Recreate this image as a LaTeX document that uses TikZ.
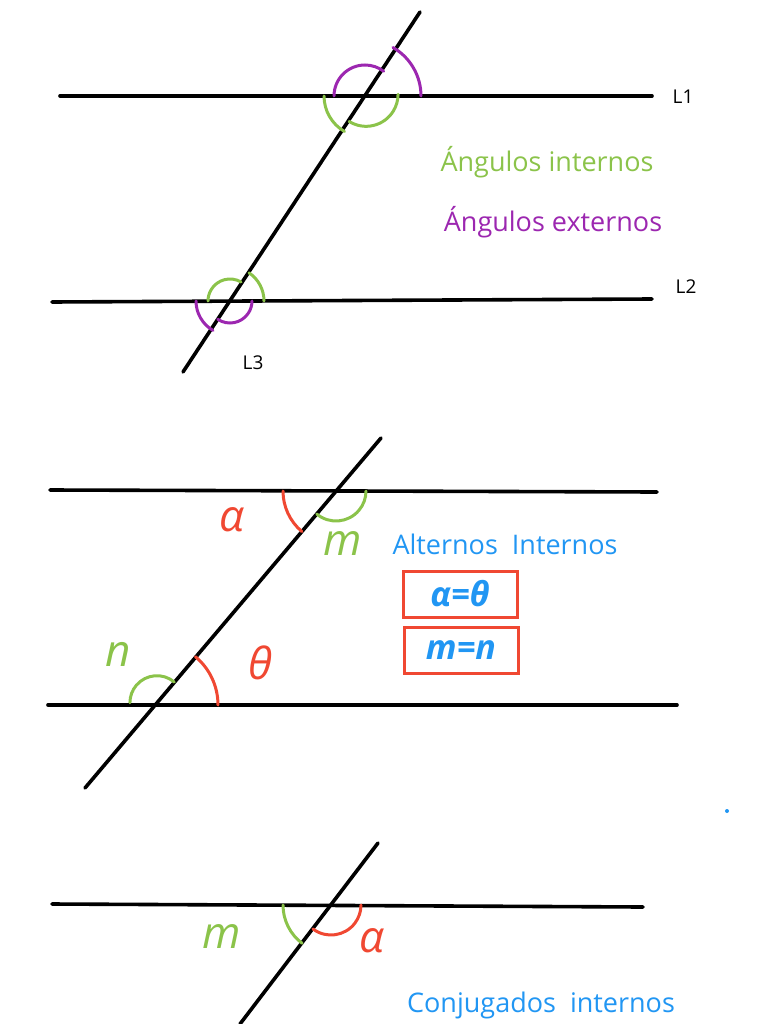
\documentclass[tikz,border=0pt]{standalone}
\usepackage{fontspec}
\setmainfont{Open Sans}
\begin{document}
\begin{tikzpicture}[x=1pt,y=-1pt,line cap=round,
 ln/.style={line width=3.6pt,black},
 ang/.style={line width=3pt},
 lbl/.style={font=\fontsize{19}{19}\selectfont},
 big/.style={font=\fontsize{27}{27}\selectfont},
 hand/.style={font=\fontsize{44}{44}\selectfont\itshape},
 box/.style={draw=rd,line width=3pt,minimum width=114pt,minimum height=46pt,text=bl,font=\fontsize{34}{34}\selectfont\bfseries\itshape}]
\definecolor{gr}{RGB}{139,195,74}
\definecolor{pu}{RGB}{156,39,176}
\definecolor{rd}{RGB}{240,72,50}
\definecolor{bl}{RGB}{33,150,243}
\useasboundingbox (0,0) rectangle (768,1024);
% top
\coordinate (a1) at (60,96); \coordinate (a2) at (652,96);
\coordinate (b1) at (52,302); \coordinate (b2) at (652,299);
\coordinate (c1) at (420,12); \coordinate (c2) at (183,372);
\draw[ln] (a1)--(a2); \draw[ln] (b1)--(b2); \draw[ln] (c1)--(c2);
\coordinate (p) at (365,96); \coordinate (q) at (230,301);
\draw[ang,pu] ([shift={(-180:31)}]p) arc[start angle=-180,end angle=-53,radius=31];
\draw[ang,pu] ([shift={(-60:56)}]p) arc[start angle=-60,end angle=0,radius=56];
\draw[ang,gr] ([shift={(-180:41)}]p) arc[start angle=-180,end angle=-240,radius=41];
\draw[ang,gr] ([shift={(-238:30)}]p) arc[start angle=-238,end angle=-360,radius=32];
\draw[ang,gr] ([shift={(-60:22)}]q) arc[start angle=-60,end angle=-180,radius=22];
\draw[ang,gr] ([shift={(-56:34)}]q) arc[start angle=-56,end angle=0,radius=34];
\draw[ang,pu] ([shift={(-180:34)}]q) arc[start angle=-180,end angle=-240,radius=34];
\draw[ang,pu] ([shift={(-236:22)}]q) arc[start angle=-236,end angle=-360,radius=22];
\node[lbl] (t1) at (683,97) {L1};
\node[lbl] (t2) at (686,287) {L2};
\node[lbl] (t3) at (253,363) {L3};
\node[big,text=gr] (g) at (547,162) {Ángulos internos};
\node[big,text=pu] (h) at (553,222) {Ángulos externos};
% middle
\coordinate (d1) at (50,490); \coordinate (d2) at (657,492);
\coordinate (e1) at (48,705); \coordinate (e2) at (677,705);
\coordinate (f1) at (381,438); \coordinate (f2) at (85,788);
\draw[ln] (d1)--(d2); \draw[ln] (e1)--(e2); \draw[ln] (f1)--(f2);
\coordinate (r) at (336,491); \coordinate (s) at (155,705);
\draw[ang,rd] ([shift={(-180:53)}]r) arc[start angle=-180,end angle=-230,radius=53];
\draw[ang,gr] ([shift={(-230:30)}]r) arc[start angle=-230,end angle=-360,radius=30];
\draw[ang,gr] ([shift={(-50:30)}]s) arc[start angle=-50,end angle=-180,radius=27];
\draw[ang,rd] ([shift={(-50:63)}]s) arc[start angle=-50,end angle=0,radius=63];
\node[hand,text=rd] (al) at (232,520) {α};
\node[hand,text=gr] (mm) at (343,544) {m};
\node[hand,text=gr] (nn) at (118,654) {n};
\node[hand,text=rd] (th) at (260,663) {θ};
\node[big,text=bl] (ai) at (505,544) {Alternos\ \ Internos};
\node[box] (b1n) at (460,594) {α=θ};
\node[box] (b2n) at (461,650) {m=n};
\fill[bl] (727,811) circle (2pt);
% bottom
\coordinate (g1) at (52,904); \coordinate (g2) at (643,907);
\coordinate (h1) at (378,843); \coordinate (h2) at (240,1024);
\draw[ln] (g1)--(g2); \draw[ln] (h1)--(h2);
\coordinate (u) at (331,905);
\draw[ang,gr] ([shift={(-180:48)}]u) arc[start angle=-180,end angle=-233,radius=48];
\draw[ang,rd] ([shift={(-233:30)}]u) arc[start angle=-233,end angle=-360,radius=30];
\node[hand,text=gr] (m2) at (222,936) {m};
\node[hand,text=rd] (a2n) at (372,941) {α};
\node[big,text=bl] (ci) at (541,1005) {Conjugados\ \ internos};
\end{tikzpicture}
\end{document}
